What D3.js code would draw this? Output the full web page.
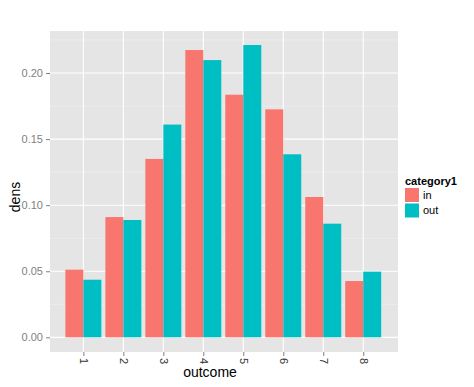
<!DOCTYPE html>
<html>
<head>
<meta charset="utf-8">
<script src="https://cdn.jsdelivr.net/npm/d3@7"></script>
<style>
  body { margin: 0; background: #fff; }
  text { font-family: "Liberation Sans", Arial, sans-serif; }
</style>
</head>
<body>
<div id="chart"></div>
<script>
// data
const outcomes = [1, 2, 3, 4, 5, 6, 7, 8];
const categories = ["in", "out"];
const densIn  = [0.0512, 0.0910, 0.1350, 0.2174, 0.1836, 0.1725, 0.1062, 0.0426];
const densOut = [0.0436, 0.0888, 0.1610, 0.2098, 0.2212, 0.1385, 0.0860, 0.0497];
const yTicks = [0, 0.05, 0.10, 0.15, 0.20];
const yMinor = [0.025, 0.075, 0.125, 0.175, 0.225];

const colors = {in: "#F8766D", out: "#00BFC4"};
const width = 474, height = 387;
const panel = {left: 50, right: 398, top: 31, bottom: 352};

const svg = d3.select("#chart").append("svg")
    .attr("width", width)
    .attr("height", height);

const xScale = d3.scaleLinear()
    .domain([1 - 0.835, 8 + 0.87])
    .range([panel.left, panel.right]);
const yScale = d3.scaleLinear()
    .domain([-0.0111, 0.2318])
    .range([panel.bottom, panel.top]);

// panel background
svg.append("rect")
    .attr("x", panel.left).attr("y", panel.top)
    .attr("width", panel.right - panel.left)
    .attr("height", panel.bottom - panel.top)
    .attr("fill", "#E5E5E5");

// grid
const grid = svg.append("g");
grid.selectAll(".minor")
    .data(yMinor.filter(d => yScale(d) > panel.top))
    .join("line")
    .attr("x1", panel.left).attr("x2", panel.right)
    .attr("y1", d => yScale(d)).attr("y2", d => yScale(d))
    .attr("stroke", "#F2F2F2").attr("stroke-width", 0.6);
grid.selectAll(".majorY")
    .data(yTicks)
    .join("line")
    .attr("x1", panel.left).attr("x2", panel.right)
    .attr("y1", d => yScale(d)).attr("y2", d => yScale(d))
    .attr("stroke", "#fff").attr("stroke-width", 1.1);
grid.selectAll(".majorX")
    .data(outcomes)
    .join("line")
    .attr("x1", d => xScale(d)).attr("x2", d => xScale(d))
    .attr("y1", panel.top).attr("y2", panel.bottom)
    .attr("stroke", "#fff").attr("stroke-width", 1.1);

// bars
const rows = outcomes.map((o, i) => ({outcome: o, in: densIn[i], out: densOut[i]}));
const inner = d3.scaleBand().domain(categories).range([-0.45, 0.45]);
const unit = xScale(1) - xScale(0);

const groups = svg.selectAll(".barG")
    .data(rows)
    .join("g")
    .attr("class", "barG");
groups.selectAll("rect")
    .data(d => categories.map(c => ({outcome: d.outcome, cat: c, value: d[c]})))
    .join("rect")
    .attr("x", d => xScale(d.outcome + inner(d.cat)))
    .attr("width", inner.bandwidth() * unit)
    .attr("y", d => yScale(d.value))
    .attr("height", d => yScale(0) - yScale(d.value))
    .attr("fill", d => colors[d.cat]);

// y axis
const yAxis = svg.append("g")
    .attr("transform", `translate(${panel.left},0)`)
    .call(d3.axisLeft(yScale).tickValues(yTicks).tickFormat(d3.format(".2f")).tickSize(4).tickPadding(3));
yAxis.select(".domain").remove();
yAxis.selectAll("line").attr("stroke", "#7F7F7F");
yAxis.selectAll("text")
    .attr("fill", "#7F7F7F")
    .attr("font-size", "11px")
    .attr("font-family", "Liberation Sans, Arial, sans-serif");

// x axis
const xAxis = svg.append("g")
    .attr("transform", `translate(0,${panel.bottom})`)
    .call(d3.axisBottom(xScale).tickValues(outcomes).tickFormat(d3.format("d")).tickSize(4).tickPadding(3));
xAxis.select(".domain").remove();
xAxis.selectAll("line").attr("stroke", "#7F7F7F");
xAxis.selectAll("text")
    .attr("transform", "rotate(90)")
    .attr("x", 6)
    .attr("y", 0)
    .attr("dy", "0.35em")
    .attr("text-anchor", "start")
    .attr("fill", "#333")
    .attr("font-size", "11px")
    .attr("font-family", "Liberation Sans, Arial, sans-serif");

// axis titles
svg.append("text")
    .attr("x", 210)
    .attr("y", 377)
    .attr("text-anchor", "middle")
    .attr("font-size", "14px")
    .attr("fill", "#000")
    .text("outcome");

svg.append("text")
    .attr("transform", "rotate(-90)")
    .attr("x", -197)
    .attr("y", 20)
    .attr("text-anchor", "middle")
    .attr("font-size", "14px")
    .attr("fill", "#000")
    .text("dens");

// legend
const legend = svg.append("g").attr("transform", "translate(405,185)");
legend.append("text")
    .attr("x", 0).attr("y", 0)
    .attr("font-size", "11px")
    .attr("font-weight", "bold")
    .text("category1");
const items = legend.selectAll(".legItem")
    .data(categories)
    .join("g")
    .attr("transform", (d, i) => `translate(0,${3 + i * 15.5})`);
items.append("rect")
    .attr("width", 14).attr("height", 14)
    .attr("fill", d => colors[d]);
items.append("text")
    .attr("x", 18).attr("y", 7)
    .attr("dy", "0.35em")
    .attr("font-size", "11px")
    .text(d => d);
</script>
</body>
</html>
